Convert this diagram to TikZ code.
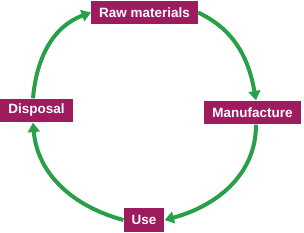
\documentclass[tikz,border=0pt]{standalone}
\usepackage{fontspec}
\setmainfont{Liberation Sans}
\usepackage{xcolor}
\usetikzlibrary{arrows.meta}
\definecolor{boxred}{RGB}{158,27,94}
\definecolor{cyclegreen}{RGB}{40,160,72}

\begin{document}
\begin{tikzpicture}[x=0.03cm,y=0.03cm,
    stage/.style={fill=boxred,text=white,font=\fontsize{11.5}{13}\selectfont\bfseries,
                  inner xsep=6.8pt,inner ysep=0pt,minimum height=20.4pt},
    flow/.style={draw=cyclegreen,line width=3.4pt,
                 -{Triangle[length=8pt,width=10pt]}}]
  \useasboundingbox (0,0) rectangle (304,233);
  % vier Stationen im Kreis
  \node[stage] (raw)  at (144.5,220.5) {Raw materials};
  \node[stage] (manu) at (252.5,120.5) {Manufacture};
  \node[stage] (use)  at (144,13)      {Use};
  \node[stage] (disp) at (36.5,122.5)  {Disposal};
  % Pfeile im Uhrzeigersinn
  \draw[flow] (raw.east) to[out=-25,in=100] ([xshift=3pt]manu.north);
  \draw[flow] ([xshift=3pt]manu.south) to[out=-90,in=15] (use.east);
  \draw[flow] (use.west) to[out=165,in=-85] ([xshift=-3pt]disp.south);
  \draw[flow] ([xshift=-3pt]disp.north) to[out=85,in=200] (raw.west);
\end{tikzpicture}
\end{document}
